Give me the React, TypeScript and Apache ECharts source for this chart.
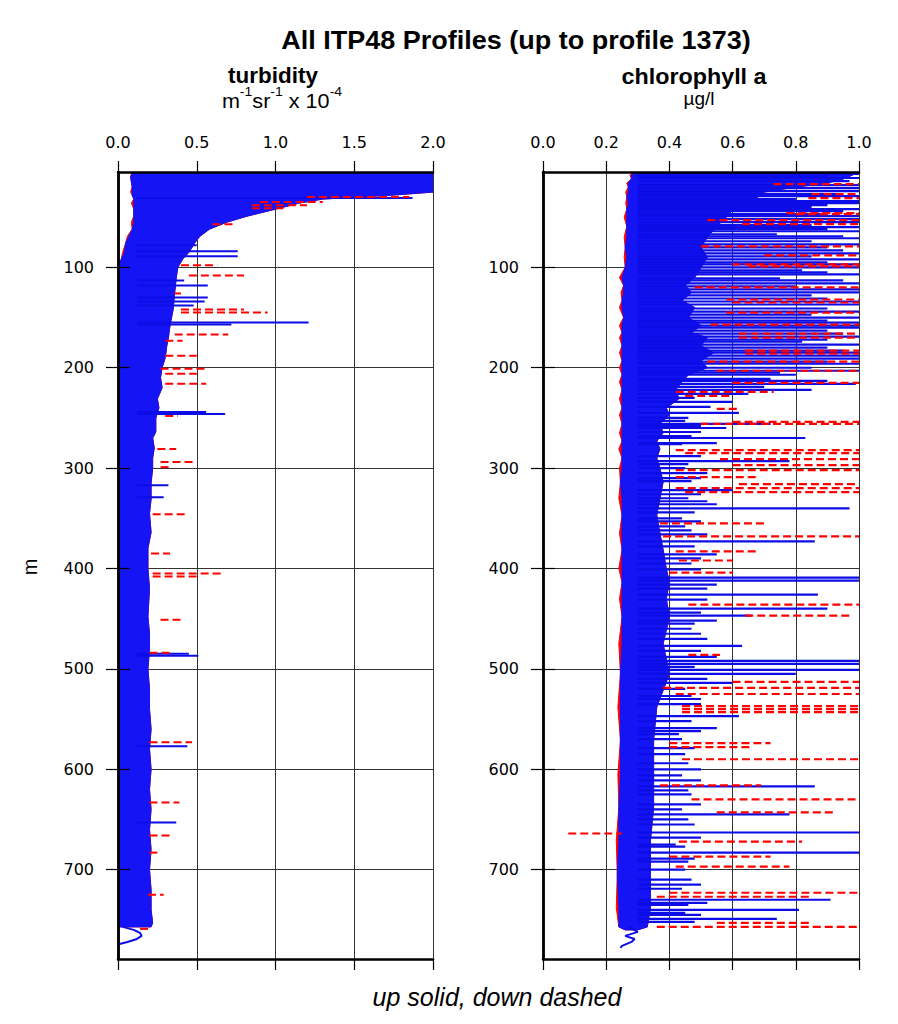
import React, { useEffect, useRef } from 'react';
import * as echarts from 'echarts';

const FONT = '"Liberation Sans", Arial, Helvetica, sans-serif';
const TICK_FONT = '"DejaVu Sans", "Liberation Sans", sans-serif';

const Y_MIN = 5;
const Y_MAX = 789;
const Y_TICKS = [100, 200, 300, 400, 500, 600, 700];

// ---------- turbidity ----------
const TURB_DEPTH = [5, 10, 20, 25, 28, 32, 36, 42, 49, 55, 62, 69, 75, 85, 92, 100, 110, 125, 142, 158, 170, 178, 190, 200, 210, 220, 231, 240, 250, 264, 270, 280, 290, 300, 315, 331, 345, 364, 380, 400, 420, 448, 465, 481, 500, 520, 540, 560, 580, 600, 620, 640, 660, 680, 700, 720, 740, 753, 757];
const TURB_UP_MIN = [0.09, 0.08, 0.09, 0.09, 0.09, 0.1, 0.1, 0.1, 0.1, 0.1, 0.09, 0.07, 0.05, 0.04, 0.02, 0.0, 0.0, 0.0, 0.0, 0.0, 0.0, 0.0, 0.0, 0.0, 0.0, 0.0, 0.0, 0.0, 0.0, 0.0, 0.0, 0.0, 0.0, 0.0, 0.0, 0.0, 0.0, 0.0, 0.0, 0.0, 0.0, 0.0, 0.0, 0.0, 0.0, 0.0, 0.0, 0.0, 0.0, 0.0, 0.0, 0.0, 0.0, 0.0, 0.0, 0.0, 0.0, 0.0, 0.01];
const TURB_UP_MAX = [2.0, 2.0, 2.0, 2.0, 1.75, 1.3, 1.15, 1.0, 0.82, 0.69, 0.58, 0.52, 0.49, 0.45, 0.41, 0.38, 0.37, 0.36, 0.35, 0.33, 0.32, 0.31, 0.3, 0.28, 0.27, 0.28, 0.25, 0.26, 0.24, 0.24, 0.22, 0.23, 0.22, 0.22, 0.21, 0.21, 0.2, 0.21, 0.19, 0.19, 0.2, 0.19, 0.2, 0.2, 0.19, 0.2, 0.2, 0.21, 0.2, 0.21, 0.2, 0.21, 0.2, 0.21, 0.2, 0.21, 0.21, 0.22, 0.21];
const TURB_DOWN_MIN = [0.09, 0.08, 0.09, 0.08, 0.09, 0.1, 0.085, 0.1, 0.1, 0.085, 0.09, 0.06, 0.05, 0.03, 0.02, 0.0, 0.0, 0.0, 0.0, 0.0, 0.0, 0.0, 0.0, 0.0, 0.0, 0.0, 0.0, 0.0, 0.0, 0.0, 0.0, 0.0, 0.0, 0.0, 0.0, 0.0, 0.0, 0.0, 0.0, 0.0, 0.0, 0.0, 0.0, 0.0, 0.0, 0.0, 0.0, 0.0, 0.0, 0.0, 0.0, 0.0, 0.0, 0.0, 0.0, 0.0, 0.0, 0.0, 0.0];
// up (solid) spikes: [depth, value]
const TURB_UP_SPIKES = [[31, 1.87], [78, 0.5], [84, 0.76], [89, 0.76], [113, 0.42], [118, 0.57], [130, 0.57], [134, 0.55], [138, 0.48], [155, 1.21], [157, 0.72], [244, 0.56], [246, 0.68], [317, 0.32], [329, 0.29], [485, 0.45], [487, 0.51], [577, 0.44], [653, 0.37]];
// down (dashed) spikes: [depth, from, to]
const TURB_DOWN_SPIKES = [[30, 1.2, 1.85], [35, 0.9, 1.3], [38, 0.85, 1.2], [41, 0.85, 1.05], [57, 0.6, 0.74], [98, 0.4, 0.63], [108, 0.45, 0.8], [126, 0.36, 0.4], [142, 0.4, 0.8], [145, 0.4, 0.95], [167, 0.36, 0.7], [173, 0.3, 0.41], [188, 0.3, 0.5], [201, 0.27, 0.57], [206, 0.3, 0.5], [216, 0.3, 0.56], [248, 0.3, 0.38], [281, 0.25, 0.37], [294, 0.27, 0.48], [299, 0.27, 0.34], [346, 0.22, 0.44], [385, 0.21, 0.33], [405, 0.22, 0.66], [408, 0.22, 0.5], [451, 0.27, 0.42], [484, 0.2, 0.35], [573, 0.2, 0.47], [633, 0.2, 0.39], [666, 0.2, 0.34], [683, 0.2, 0.25], [725, 0.19, 0.29], [759, 0.14, 0.2]];
const TURB_TAIL_DEPTH = [757, 760, 763, 766, 769, 772, 774];
const TURB_TAIL_VALUE = [0.03, 0.1, 0.14, 0.15, 0.12, 0.06, 0.01];

// ---------- chlorophyll a ----------
const CHL_DEPTH = [5, 8, 12, 16, 20, 25, 30, 36, 42, 50, 59, 70, 80, 90, 100, 110, 118, 125, 133, 140, 150, 158, 165, 170, 178, 185, 193, 200, 207, 214, 222, 231, 240, 247, 256, 265, 273, 281, 290, 300, 314, 330, 347, 365, 381, 400, 414, 430, 448, 475, 505, 538, 571, 605, 638, 671, 705, 738, 757, 760];
const CHL_UP_MIN = [0.29, 0.28, 0.28, 0.27, 0.27, 0.27, 0.265, 0.27, 0.265, 0.265, 0.265, 0.265, 0.26, 0.265, 0.26, 0.25, 0.255, 0.255, 0.25, 0.25, 0.255, 0.25, 0.25, 0.25, 0.25, 0.25, 0.25, 0.25, 0.25, 0.25, 0.25, 0.25, 0.25, 0.25, 0.25, 0.25, 0.25, 0.25, 0.25, 0.25, 0.245, 0.25, 0.25, 0.25, 0.25, 0.25, 0.25, 0.25, 0.25, 0.25, 0.245, 0.245, 0.245, 0.245, 0.24, 0.24, 0.235, 0.24, 0.24, 0.26];
const CHL_UP_MAX = [0.97, 0.98, 0.95, 0.9, 0.8, 0.7, 0.68, 0.62, 0.6, 0.58, 0.55, 0.52, 0.5, 0.52, 0.5, 0.48, 0.45, 0.47, 0.44, 0.48, 0.46, 0.5, 0.47, 0.52, 0.5, 0.54, 0.5, 0.52, 0.46, 0.44, 0.42, 0.43, 0.39, 0.4, 0.37, 0.38, 0.36, 0.37, 0.36, 0.37, 0.38, 0.37, 0.36, 0.37, 0.38, 0.39, 0.4, 0.39, 0.4, 0.38, 0.4, 0.36, 0.35, 0.35, 0.35, 0.34, 0.34, 0.34, 0.33, 0.3];
const CHL_DOWN_MIN = [0.29, 0.275, 0.28, 0.265, 0.27, 0.262, 0.265, 0.262, 0.265, 0.257, 0.265, 0.257, 0.26, 0.257, 0.26, 0.242, 0.255, 0.247, 0.25, 0.242, 0.255, 0.242, 0.25, 0.242, 0.25, 0.242, 0.25, 0.242, 0.25, 0.242, 0.25, 0.242, 0.25, 0.242, 0.25, 0.242, 0.25, 0.24, 0.25, 0.242, 0.245, 0.24, 0.25, 0.242, 0.25, 0.24, 0.25, 0.242, 0.25, 0.24, 0.245, 0.237, 0.245, 0.237, 0.24, 0.232, 0.235, 0.232, 0.24, 0.26];
const CHL_UP_SPIKES = [[7, 1.0], [9, 0.9], [11, 1.0], [14, 0.97], [18, 1.0], [21, 1.0], [24, 1.0], [27, 0.95], [29, 1.0], [32, 0.8], [34, 1.0], [36, 1.0], [38, 0.9], [40, 0.85], [42, 1.0], [44, 0.95], [47, 0.9], [49, 1.0], [52, 1.0], [55, 1.0], [58, 0.85], [60, 1.0], [62, 0.9], [64, 1.0], [67, 0.74], [69, 0.95], [71, 1.0], [74, 0.85], [77, 1.0], [80, 0.9], [83, 0.95], [86, 1.0], [89, 0.85], [92, 1.0], [95, 0.9], [97, 1.0], [100, 1.0], [103, 0.82], [105, 0.9], [107, 1.0], [111, 0.75], [113, 0.95], [116, 1.0], [119, 0.8], [122, 1.0], [125, 1.0], [128, 0.85], [131, 0.9], [134, 1.0], [137, 1.0], [141, 0.9], [144, 1.0], [147, 0.85], [150, 1.0], [153, 0.9], [155, 1.0], [158, 1.0], [160, 1.0], [163, 0.9], [166, 0.95], [169, 1.0], [172, 0.9], [174, 0.82], [177, 1.0], [180, 0.9], [183, 0.95], [185, 1.0], [188, 1.0], [191, 1.0], [194, 0.9], [196, 1.0], [200, 0.85], [203, 1.0], [205, 0.75], [207, 0.8], [211, 0.72], [213, 0.9], [216, 0.99], [219, 0.7], [222, 0.85], [226, 0.65], [230, 0.48], [234, 0.6], [239, 0.53], [245, 0.62], [250, 0.46], [253, 0.45], [256, 0.72], [258, 0.5], [260, 0.58], [264, 0.5], [268, 0.47], [270, 0.83], [275, 0.55], [276, 0.44], [288, 0.5], [293, 0.78], [296, 0.46], [300, 0.45], [305, 0.52], [310, 0.5], [313, 0.47], [322, 0.6], [326, 0.5], [330, 0.46], [333, 0.52], [336, 0.55], [340, 0.97], [344, 0.48], [350, 0.44], [353, 0.5], [358, 0.45], [362, 0.47], [366, 0.52], [373, 0.86], [378, 0.48], [386, 0.55], [390, 0.5], [395, 0.47], [401, 0.5], [409, 1.0], [412, 1.0], [416, 0.55], [420, 0.52], [426, 0.87], [431, 0.52], [440, 0.9], [444, 0.5], [447, 0.66], [452, 0.55], [455, 0.48], [460, 0.47], [465, 0.5], [470, 0.52], [477, 0.63], [482, 0.5], [488, 0.55], [492, 1.0], [495, 1.0], [498, 0.48], [501, 1.0], [505, 0.8], [510, 0.52], [514, 0.6], [520, 0.45], [527, 0.47], [530, 0.5], [535, 0.5], [547, 0.62], [552, 0.47], [559, 0.55], [562, 0.5], [565, 0.43], [570, 0.44], [579, 0.48], [585, 0.45], [594, 0.46], [600, 0.5], [606, 0.44], [611, 0.5], [617, 0.86], [621, 0.46], [625, 0.47], [635, 0.5], [640, 0.44], [645, 0.78], [650, 0.46], [655, 0.48], [663, 1.0], [668, 0.5], [675, 0.42], [677, 0.45], [683, 1.0], [689, 0.48], [692, 0.46], [700, 0.45], [710, 0.47], [715, 0.5], [719, 0.44], [730, 0.91], [733, 0.52], [735, 0.46], [740, 0.81], [743, 0.45], [745, 0.5], [749, 0.74], [752, 0.48]];
const CHL_DOWN_SPIKES = [[17, 0.73, 1.0], [27, 0.85, 1.0], [31, 0.84, 1.0], [46, 0.77, 1.0], [47, 0.8, 1.0], [53, 0.52, 1.0], [57, 0.63, 1.0], [79, 0.5, 1.0], [88, 0.7, 1.0], [97, 0.6, 1.0], [99, 0.65, 1.0], [120, 0.48, 1.0], [132, 0.58, 1.0], [135, 0.6, 1.0], [145, 0.58, 1.0], [157, 0.53, 1.0], [166, 0.62, 1.0], [170, 0.62, 1.0], [183, 0.64, 1.0], [186, 0.64, 1.0], [194, 0.52, 1.0], [203, 0.55, 1.0], [215, 0.6, 1.0], [224, 0.42, 0.73], [228, 0.45, 0.6], [241, 0.55, 0.62], [254, 0.6, 1.0], [256, 0.5, 1.0], [282, 0.42, 1.0], [285, 0.45, 1.0], [291, 0.56, 1.0], [297, 0.6, 1.0], [302, 0.42, 1.0], [309, 0.42, 0.68], [316, 0.62, 1.0], [320, 0.42, 1.0], [324, 0.45, 1.0], [355, 0.37, 0.7], [368, 0.38, 1.0], [383, 0.42, 0.68], [392, 0.43, 0.6], [404, 0.4, 0.6], [436, 0.46, 1.0], [447, 0.64, 0.98], [486, 0.46, 0.56], [513, 0.6, 1.0], [519, 0.38, 1.0], [525, 0.42, 1.0], [537, 0.44, 1.0], [540, 0.44, 1.0], [543, 0.44, 1.0], [574, 0.4, 0.72], [578, 0.4, 0.66], [590, 0.44, 1.0], [616, 0.37, 0.69], [630, 0.47, 1.0], [643, 0.55, 0.92], [664, 0.08, 0.25], [672, 0.43, 0.82], [687, 0.4, 0.72], [697, 0.42, 0.78], [723, 0.4, 1.0], [727, 0.36, 0.85], [753, 0.55, 0.85], [757, 0.36, 1.0]];
const CHL_TAIL_DEPTH = [757, 762, 766, 769, 772, 776, 778];
const CHL_TAIL_VALUE = [0.27, 0.3, 0.26, 0.29, 0.28, 0.25, 0.245];

const BLUE = '#1414f5';
const BLUE_LINE = '#0c0ce6';
const RED = '#ff0000';

function envelope(xi: number, yi: number, depth: number[], mins: number[], maxs: number[], color: string, z: number) {
  const rows = depth.map((d, i) => [mins[i], d, maxs[i]]);
  return {
    type: 'custom', xAxisIndex: xi, yAxisIndex: yi, z, silent: true, clip: true,
    data: rows,
    renderItem: (params: any, api: any) => {
      if (params.dataIndex !== 0) return null;
      const left = rows.map((r) => api.coord([r[0], r[1]]));
      const right = rows.map((r) => api.coord([r[2], r[1]])).reverse();
      return { type: 'polygon', shape: { points: left.concat(right) }, style: { fill: color, stroke: color, lineWidth: 1 } };
    },
  };
}

function spikes(xi: number, yi: number, rows: number[][], color: string, width: number, dash: number[] | null, z: number) {
  return {
    type: 'custom', xAxisIndex: xi, yAxisIndex: yi, z, silent: true, clip: true,
    data: rows.map((r) => [r[0], r[1], r[2]]),
    renderItem: (params: any, api: any) => {
      const d = api.value(0);
      const p0 = api.coord([api.value(1), d]);
      const p1 = api.coord([api.value(2), d]);
      return {
        type: 'line',
        shape: { x1: p0[0], y1: p0[1], x2: p1[0], y2: p1[1] },
        style: { stroke: color, lineWidth: width, lineDash: dash || undefined, fill: null },
      };
    },
  };
}

function tail(xi: number, yi: number, depth: number[], vals: number[]) {
  return {
    type: 'line', xAxisIndex: xi, yAxisIndex: yi, z: 6, silent: true, showSymbol: false, symbol: 'none',
    data: depth.map((d, i) => [vals[i], d]),
    lineStyle: { color: BLUE_LINE, width: 2 },
  };
}

function xAxes(grid: number, max: number, interval: number) {
  const line = { show: true, lineStyle: { color: '#000', width: 2.5 } };
  const tick = { show: true, length: 11, lineStyle: { color: '#000', width: 1.2 } };
  return [
    {
      gridIndex: grid, type: 'value', position: 'top', min: 0, max, interval, z: 10,
      axisLine: line, axisTick: tick,
      axisLabel: { show: true, margin: 22, fontSize: 16, fontFamily: TICK_FONT, color: '#000', formatter: (v: number) => v.toFixed(1) },
      splitLine: { show: false },
    },
    {
      gridIndex: grid, type: 'value', position: 'bottom', min: 0, max, interval, z: 10,
      axisLine: line, axisTick: tick, axisLabel: { show: false }, splitLine: { show: false },
    },
    {
      gridIndex: grid, type: 'value', position: 'bottom', min: 0, max, interval, z: 0,
      axisLine: { show: false }, axisTick: { show: false }, axisLabel: { show: false },
      splitLine: { show: true, lineStyle: { color: '#333', width: 1 } },
    },
  ];
}

function yAxes(grid: number) {
  const line = { show: true, lineStyle: { color: '#000', width: 2.5 } };
  const tick = { show: true, length: 12, customValues: Y_TICKS, lineStyle: { color: '#000', width: 1.2 } };
  return [
    {
      gridIndex: grid, type: 'value', position: 'left', inverse: true, min: Y_MIN, max: Y_MAX, z: 10,
      axisLine: line, axisTick: tick,
      axisLabel: { show: true, margin: 24, fontSize: 16, fontFamily: TICK_FONT, color: '#000', customValues: Y_TICKS },
      splitLine: { show: false },
    },
    {
      gridIndex: grid, type: 'value', position: 'right', inverse: true, min: Y_MIN, max: Y_MAX, z: 10,
      axisLine: line, axisTick: tick, axisLabel: { show: false }, splitLine: { show: false },
    },
    {
      gridIndex: grid, type: 'value', position: 'left', inverse: true, min: Y_MIN, max: Y_MAX, z: 0,
      axisLine: { show: false }, axisTick: { show: false, customValues: Y_TICKS }, axisLabel: { show: false },
      splitLine: { show: true, lineStyle: { color: '#333', width: 1 } },
    },
  ];
}

function txt(x: number, y: number, text: string, size: number, weight: string, style: string, extra: any = {}) {
  return {
    type: 'text', x, y, silent: true, z: 20, ...extra,
    style: {
      text, fill: '#000', fontSize: size, fontWeight: weight, fontStyle: style, fontFamily: FONT,
      align: 'center', verticalAlign: 'middle', textAlign: 'center', textVerticalAlign: 'middle',
    },
  };
}

export default function App() {
  const ref = useRef<HTMLDivElement>(null);
  useEffect(() => {
    const chart = echarts.init(ref.current as HTMLDivElement, null, { renderer: 'svg' });
    const option: any = {
      animation: false,
      backgroundColor: '#fff',
      grid: [
        { left: 118, top: 172, width: 315, height: 787, containLabel: false },
        { left: 543, top: 172, width: 316, height: 787, containLabel: false },
      ],
      xAxis: [...xAxes(0, 2, 0.5), ...xAxes(1, 1, 0.2)],
      yAxis: [...yAxes(0), ...yAxes(1)],
      series: [
        envelope(0, 0, TURB_DEPTH, TURB_DOWN_MIN, TURB_UP_MAX, RED, 2),
        envelope(0, 0, TURB_DEPTH, TURB_UP_MIN, TURB_UP_MAX, BLUE, 3),
        spikes(0, 0, TURB_UP_SPIKES.map((s) => [s[0], 0.12, s[1]]), BLUE_LINE, 2, null, 4),
        spikes(0, 0, TURB_DOWN_SPIKES, RED, 2, [8, 4], 5),
        tail(0, 0, TURB_TAIL_DEPTH, TURB_TAIL_VALUE),
        envelope(3, 3, CHL_DEPTH, CHL_DOWN_MIN, CHL_UP_MAX, RED, 2),
        envelope(3, 3, CHL_DEPTH, CHL_UP_MIN, CHL_UP_MAX, BLUE, 3),
        spikes(3, 3, CHL_UP_SPIKES.map((s) => [s[0], 0.3, s[1]]), BLUE_LINE, 2.2, null, 4),
        spikes(3, 3, CHL_DOWN_SPIKES, RED, 2.2, [8, 4], 5),
        tail(3, 3, CHL_TAIL_DEPTH, CHL_TAIL_VALUE),
      ],
      graphic: [
        txt(516, 40, 'All ITP48 Profiles (up to profile 1373)', 25, 'bold', 'normal', { scaleX: 1.08 }),
        txt(273, 76, 'turbidity', 22, 'bold', 'normal', { scaleX: 1.02 }),
        {
          type: 'text', x: 282, y: 98, silent: true, z: 20, scaleX: 1.08,
          style: {
            text: '{b|m}{s|-1}{b|sr}{s|-1}{b| x 10}{s|-4}',
            align: 'center', verticalAlign: 'middle', textAlign: 'center', textVerticalAlign: 'middle',
            rich: {
              b: { fontSize: 20, fontFamily: FONT, fill: '#000', color: '#000', lineHeight: 26, verticalAlign: 'bottom' },
              s: { fontSize: 13, fontFamily: FONT, fill: '#000', color: '#000', lineHeight: 13, verticalAlign: 'top' },
            },
          },
        },
        txt(694, 76, 'chlorophyll a', 22, 'bold', 'normal', { scaleX: 1.06 }),
        txt(699, 98, 'µg/l', 19, 'normal', 'normal'),
        txt(30, 567, 'm', 20, 'normal', 'normal', { rotation: Math.PI / 2 }),
        txt(497, 997, 'up solid, down dashed', 25, 'normal', 'italic'),
      ],
    };
    chart.setOption(option);
    return () => chart.dispose();
  }, []);
  return <div ref={ref} style={{ position: 'absolute', left: 0, top: 0, width: 898, height: 1024, background: '#fff' }} />;
}
